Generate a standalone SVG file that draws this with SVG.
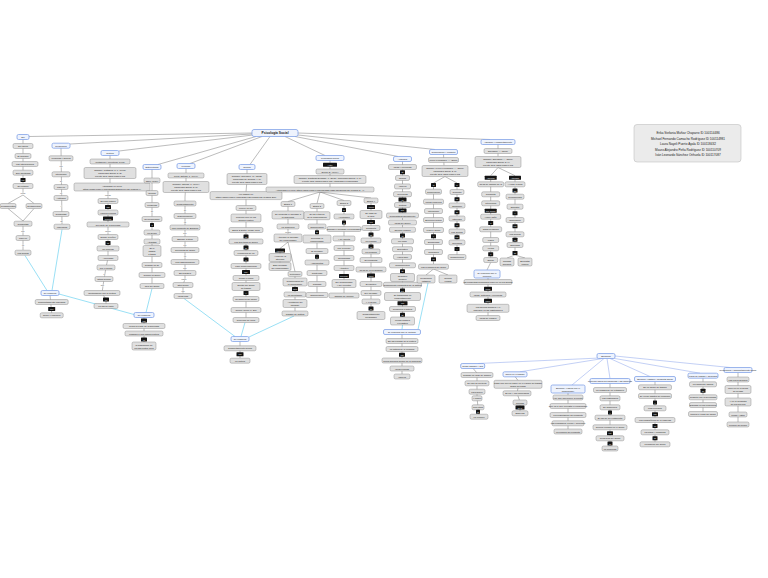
<svg xmlns="http://www.w3.org/2000/svg" width="768" height="578" viewBox="0 0 768 578">
<style>
text{font-family:"Liberation Sans",Arial,sans-serif;font-size:2.3px;text-anchor:middle;dominant-baseline:central;fill:#1a1a1a}
.n rect{fill:#e0e0e0;stroke:#7a7a7a;stroke-width:0.4}
.b rect{fill:#eef3fd;stroke:#7c9de6;stroke-width:0.75}
.k rect{fill:#141414}
.k text{fill:#fff;font-size:2px}
.l{font-size:2px;fill:#444;stroke:#fff;stroke-width:0.6;paint-order:stroke}
.c line,.c polyline{stroke:#555;stroke-width:0.4;fill:none}
.c .x{stroke:#8fdcf4;stroke-width:0.9}
.c .e{stroke:#9ab0ee;stroke-width:0.6}
</style>
<rect width="768" height="578" fill="#fff"/>
<g id="connectors" class="c">
<line x1="252" y1="133" x2="29" y2="136.5"/>
<line x1="252" y1="134" x2="70" y2="144"/>
<line x1="253" y1="135" x2="119" y2="151"/>
<line x1="256" y1="136.5" x2="158" y2="164.5"/>
<line x1="262" y1="136.5" x2="190" y2="163.5"/>
<line x1="270" y1="136.5" x2="250" y2="164.5"/>
<line x1="285" y1="136.5" x2="325" y2="155.5"/>
<line x1="295" y1="136.5" x2="398" y2="156.5"/>
<line x1="298" y1="135" x2="435" y2="149.5"/>
<line x1="298" y1="133" x2="490" y2="139.5"/>
<line x1="23" y1="139.5" x2="23" y2="194"/>
<polyline points="8,203.5 23,195 34,203.5"/>
<polyline points="8,208.5 23,221 34,208.5"/>
<line x1="23" y1="226" x2="23" y2="250"/>
<line x1="61" y1="148" x2="62" y2="224"/>
<line x1="50" y1="295" x2="51.7" y2="313"/>
<polyline points="110,155 110,183 108,191 108,258 106,267.5 104,279 102,293 106,299.5 106,304"/>
<line x1="152" y1="169" x2="152" y2="284"/>
<line x1="144" y1="317" x2="144" y2="342"/>
<polyline points="186,168 186,182 185,197 185,279 183,285 183,294"/>
<polyline points="247,169 247,180 246,192 246,318"/>
<line x1="240" y1="341" x2="240" y2="358"/>
<line x1="330" y1="160" x2="330" y2="187"/>
<line x1="320" y1="192" x2="288" y2="201.5"/>
<line x1="320" y1="192" x2="317" y2="203.5"/>
<line x1="320" y1="192" x2="344" y2="200.5"/>
<line x1="320" y1="192" x2="371" y2="198"/>
<line x1="288" y1="206" x2="288" y2="242"/>
<polyline points="288,242 280,248.5 280,264"/>
<polyline points="288,242 295,271.5 295,311"/>
<line x1="317" y1="208" x2="317" y2="293"/>
<line x1="344" y1="205" x2="344" y2="293"/>
<line x1="371" y1="202.5" x2="371" y2="312"/>
<line x1="402.5" y1="161" x2="402.5" y2="318"/>
<line x1="402" y1="334" x2="402" y2="374"/>
<line x1="443.5" y1="154" x2="444" y2="165.5"/>
<line x1="445" y1="176.5" x2="433.5" y2="183"/>
<line x1="445" y1="176.5" x2="457" y2="183"/>
<line x1="433.5" y1="187" x2="433.5" y2="264"/>
<line x1="433.5" y1="269" x2="426" y2="275"/>
<line x1="433.5" y1="269" x2="448" y2="275"/>
<line x1="457" y1="187" x2="457" y2="255"/>
<line x1="498" y1="144" x2="498" y2="156.5"/>
<line x1="498" y1="167.5" x2="490.7" y2="175.7"/>
<line x1="498" y1="167.5" x2="515" y2="175.7"/>
<line x1="490.7" y1="179.7" x2="490.7" y2="262"/>
<line x1="490.7" y1="262.5" x2="487" y2="270"/>
<line x1="515" y1="179.7" x2="515" y2="251.3"/>
<line x1="515" y1="255" x2="507" y2="258"/>
<line x1="515" y1="255" x2="525" y2="258"/>
<line x1="488" y1="278" x2="488" y2="316"/>
<polyline points="472.7,368 477,373 477,398 478,407 479,415"/>
<polyline points="515,376.5 518,380.5 518,388 517,393 520,402 520,411"/>
<line x1="568" y1="393" x2="568" y2="429"/>
<line x1="610" y1="383.5" x2="610" y2="446"/>
<line x1="655" y1="381.5" x2="655" y2="442"/>
<line x1="703" y1="378" x2="703" y2="412"/>
<line x1="738" y1="372.5" x2="738" y2="422"/>
<line class="x" x1="25" y1="255.5" x2="47" y2="290.5"/>
<line class="x" x1="62" y1="229.5" x2="52" y2="290.5"/>
<line class="x" x1="59" y1="294" x2="134" y2="314.5"/>
<line class="x" x1="152" y1="288.5" x2="146" y2="312.5"/>
<line class="x" x1="184" y1="298.5" x2="235" y2="336.5"/>
<line class="x" x1="245" y1="322.5" x2="241" y2="336.5"/>
<line class="x" x1="249" y1="337" x2="294" y2="316"/>
<line class="x" x1="402.5" y1="325" x2="402" y2="329.5"/>
<line class="x" x1="428" y1="283" x2="418" y2="329.5"/>
<line class="e" x1="600" y1="358" x2="478" y2="363.5"/>
<line class="e" x1="603" y1="358.5" x2="520" y2="371.8"/>
<line class="e" x1="604" y1="358.5" x2="572" y2="385"/>
<line class="e" x1="607" y1="358.5" x2="610" y2="378.5"/>
<line class="e" x1="610" y1="358.5" x2="650" y2="376.5"/>
<line class="e" x1="612" y1="358" x2="700" y2="373.2"/>
<line class="e" x1="615" y1="356" x2="730" y2="367.5"/>
</g>
<g id="link-labels">
<text class="l" x="23" y="193">como</text>
<text class="l" x="23" y="231">que</text>
<text class="l" x="23" y="245">en</text>
<text class="l" x="61" y="165.7">con</text>
<text class="l" x="61" y="181">se</text>
<text class="l" x="61" y="193">en</text>
<text class="l" x="61" y="206">y</text>
<text class="l" x="61.5" y="220.5">de</text>
<text class="l" x="108" y="195">nacido</text>
<text class="l" x="108" y="231">ocurre</text>
<text class="l" x="104" y="273.5">a</text>
<text class="l" x="102.5" y="285">que</text>
<text class="l" x="152" y="211">de</text>
<text class="l" x="185" y="209.5">de</text>
<text class="l" x="185" y="221.5">es</text>
<text class="l" x="185" y="233">que</text>
<text class="l" x="185" y="244.5">por</text>
<text class="l" x="185" y="256">en</text>
<text class="l" x="185" y="267.5">que</text>
<text class="l" x="184" y="279">hacia</text>
<text class="l" x="183" y="290.5">con</text>
<text class="l" x="288" y="231.5">presta</text>
</g>
<g id="root" class="b"><rect x="252" y="129.5" width="46" height="7" rx="2"/><text x="275" y="133" style="font-size:3.3px;font-weight:bold">Psicología Social</text></g>
<g id="col-ser">
<g id="a0" class="b"><rect x="17" y="134.5" width="12" height="5" rx="1.5"/><text x="23" y="137">Ser</text></g>
<g id="a1" class="n"><rect x="13" y="143.5" width="20" height="5" rx="1.5"/><text x="23" y="146">Ser social</text></g>
<g id="a2" class="n"><rect x="15" y="153.5" width="16" height="5" rx="1.5"/><text x="23" y="156">El humano</text></g>
<g id="a3" class="n"><rect x="12" y="161.5" width="26" height="5" rx="1.5"/><text x="25" y="164">Las interacciones</text></g>
<g id="a4" class="n"><rect x="13" y="170.2" width="20" height="5" rx="1.5"/><text x="23" y="172.7">Son afectadas</text></g>
<g id="a5" class="k"><rect x="20.5" y="178" width="5" height="4" rx="0.5"/><text x="23" y="180">por</text></g>
<g id="a6" class="n"><rect x="13" y="183.5" width="20" height="5" rx="1.5"/><text x="23" y="186">Su entorno</text></g>
<g id="a7" class="n"><rect x="0" y="203.5" width="16" height="5" rx="1.5"/><text x="8" y="206">Pensamientos</text></g>
<g id="a8" class="n"><rect x="26" y="203.5" width="16" height="5" rx="1.5"/><text x="34" y="206">Sentimientos</text></g>
<g id="a9" class="n"><rect x="14" y="221.2" width="18" height="5" rx="1.5"/><text x="23" y="223.7">Conductas</text></g>
<g id="a10" class="n"><rect x="16" y="235.5" width="14" height="5" rx="1.5"/><text x="23" y="238">Influyen</text></g>
<g id="a11" class="n"><rect x="15" y="250.2" width="16" height="5" rx="1.5"/><text x="23" y="252.7">Los demás</text></g>
</g>
<g id="col-relaciones">
<g id="b0" class="b"><rect x="52" y="143.2" width="18" height="5" rx="1.5"/><text x="61" y="145.7">Relaciones</text></g>
<g id="b1" class="n"><rect x="49" y="155.8" width="24" height="5" rx="1.5"/><text x="61" y="158.3">Personas y grupos</text></g>
<g id="b2" class="n"><rect x="52" y="171.8" width="18" height="5" rx="1.5"/><text x="61" y="174.3">Interacción</text></g>
<g id="b3" class="n"><rect x="54" y="184.5" width="14" height="5" rx="1.5"/><text x="61" y="187">Influyen</text></g>
<g id="b4" class="n"><rect x="54" y="195.5" width="14" height="5" rx="1.5"/><text x="61" y="198">Actitudes</text></g>
<g id="b5" class="n"><rect x="53" y="211.5" width="16" height="5" rx="1.5"/><text x="61" y="214">Conductas</text></g>
<g id="b6" class="n"><rect x="54" y="224.2" width="16" height="5" rx="1.5"/><text x="62" y="226.7">Individuos</text></g>
</g>
<g id="sr1">
<g id="s1" class="b"><rect x="41" y="290.5" width="18" height="5" rx="1.5"/><text x="50" y="293">se relaciona</text></g>
<g id="s1a" class="n"><rect x="35.2" y="299.5" width="33" height="5" rx="1.5"/><text x="51.7" y="302">Comportamiento individual</text></g>
<g id="s1k" class="k"><rect x="48.2" y="307" width="7" height="4" rx="0.5"/><text x="51.7" y="309">con</text></g>
<g id="s1b" class="n"><rect x="40.2" y="312.8" width="23" height="5" rx="1.5"/><text x="51.7" y="315.3">grupo e individuo</text></g>
</g>
<g id="col-cultura">
<g id="c0" class="b"><rect x="101" y="150.5" width="18" height="5" rx="1.5"/><text x="110" y="153">Cultura</text></g>
<g id="c1" class="n"><rect x="90" y="159" width="40" height="5" rx="1.5"/><text x="110" y="161.5">(Pettigrew y Meertens, 1995)</text></g>
<g id="c2" class="n"><rect x="84" y="167.5" width="52" height="11" rx="1.5"/><text x="110" y="170">Nombre: Pettigrew, T. F. (1995)</text><text x="110" y="173">Psicología Social: 5 (2)</text><text x="110" y="176">Fuente web: www.redalyc.org</text></g>
<g id="c3" class="n"><rect x="74" y="183" width="76" height="8" rx="1.5"/><text x="112" y="185.5">Actualidad en línea:</text><text x="112" y="188.5">https://www.redalyc.org/pdf/805/80511907.pdf (Página 4)</text></g>
<g id="c4" class="n"><rect x="98" y="198.5" width="20" height="5" rx="1.5"/><text x="108" y="201">En una cultura</text></g>
<g id="c5" class="k"><rect x="105" y="205" width="6" height="4" rx="0.5"/><text x="108" y="207">con</text></g>
<g id="c6" class="n"><rect x="98" y="210" width="20" height="5" rx="1.5"/><text x="108" y="212.5">Valores propios</text></g>
<g id="c7" class="k"><rect x="103" y="216.5" width="10" height="4" rx="0.5"/><text x="108" y="218.5">permite</text></g>
<g id="c8" class="n"><rect x="87" y="222" width="42" height="5" rx="1.5"/><text x="108" y="224.5">ser parte de la sociedad</text></g>
<g id="c9" class="n"><rect x="98" y="234.5" width="20" height="5" rx="1.5"/><text x="108" y="237">Desde la niñez</text></g>
<g id="c10" class="k"><rect x="105.5" y="241" width="5" height="4" rx="0.5"/><text x="108" y="243">es</text></g>
<g id="c11" class="n"><rect x="97" y="246" width="22" height="5" rx="1.5"/><text x="108" y="248.5">Un proceso</text></g>
<g id="c12" class="n"><rect x="98" y="255.5" width="20" height="5" rx="1.5"/><text x="108" y="258">Aprendido</text></g>
<g id="c13" class="n"><rect x="97" y="265" width="18" height="5" rx="1.5"/><text x="106" y="267.5">Por el grupo</text></g>
<g id="c14" class="n"><rect x="95" y="276.5" width="18" height="5" rx="1.5"/><text x="104" y="279">Otros grupos</text></g>
<g id="c15" class="n"><rect x="84" y="290.5" width="36" height="5" rx="1.5"/><text x="102" y="293">Identificación con la cultura</text></g>
<g id="c16" class="k"><rect x="103" y="297.5" width="6" height="4" rx="0.5"/><text x="106" y="299.5">en</text></g>
<g id="c17" class="n"><rect x="94" y="303.5" width="24" height="5" rx="1.5"/><text x="106" y="306">La mayor parte</text></g>
</g>
<g id="col-estereotipos">
<g id="d0" class="b"><rect x="143" y="164.5" width="18" height="5" rx="1.5"/><text x="152" y="167">Estereotipos</text></g>
<g id="d1" class="n"><rect x="144" y="178" width="16" height="5" rx="1.5"/><text x="152" y="180.5">Tajfel (1984)</text></g>
<g id="d2" class="n"><rect x="146" y="190.5" width="12" height="5" rx="1.5"/><text x="152" y="193">Grupos</text></g>
<g id="d3" class="n"><rect x="145" y="202.5" width="14" height="5" rx="1.5"/><text x="152" y="205">Personas</text></g>
<g id="d4" class="n"><rect x="142" y="216.5" width="20" height="5" rx="1.5"/><text x="152" y="219">Generalización</text></g>
<g id="d5" class="k"><rect x="150" y="223" width="4" height="4" rx="0.5"/><text x="152" y="225">a</text></g>
<g id="d6" class="n"><rect x="144" y="230" width="16" height="5" rx="1.5"/><text x="152" y="232.5">Un grupo</text></g>
<g id="d7" class="n"><rect x="144" y="239" width="16" height="5" rx="1.5"/><text x="152" y="241.5">Atributos</text></g>
<g id="d8" class="n"><rect x="143" y="245.5" width="18" height="11" rx="1.5"/><text x="152" y="248">Se le</text><text x="152" y="251">asigna</text><text x="152" y="254">a todos</text></g>
<g id="d9" class="n"><rect x="142" y="262.5" width="20" height="5" rx="1.5"/><text x="152" y="265">Cuando no se</text></g>
<g id="d10" class="n"><rect x="139" y="272.5" width="26" height="5" rx="1.5"/><text x="152" y="275">Conoce al grupo</text></g>
<g id="d11" class="n"><rect x="140" y="283.5" width="24" height="5" rx="1.5"/><text x="152" y="286">Idea del grupo</text></g>
</g>
<g id="sr2">
<g id="s2" class="b"><rect x="134" y="312.5" width="20" height="5" rx="1.5"/><text x="144" y="315">se relaciona</text></g>
<g id="s2k1" class="k"><rect x="141" y="318.5" width="6" height="4" rx="0.5"/><text x="144" y="320.5">con</text></g>
<g id="s2a" class="n"><rect x="123" y="323.5" width="42" height="5" rx="1.5"/><text x="144" y="326">la mayor parte de la sociedad</text></g>
<g id="s2b" class="n"><rect x="125" y="331" width="38" height="5" rx="1.5"/><text x="144" y="333.5">llegando a una misma cultura</text></g>
<g id="s2k2" class="k"><rect x="141" y="337.5" width="6" height="4" rx="0.5"/><text x="144" y="339.5">en</text></g>
<g id="s2c" class="n"><rect x="132" y="342" width="24" height="8" rx="1.5"/><text x="144" y="344.5">la adquisición de</text><text x="144" y="347.5">los diferentes roles</text></g>
</g>
<g id="col-prejuicio">
<g id="e0" class="b"><rect x="177" y="163.5" width="18" height="5" rx="1.5"/><text x="186" y="166">Prejuicio</text></g>
<g id="e1" class="n"><rect x="168" y="173" width="36" height="5" rx="1.5"/><text x="186" y="175.5">Perfil: Ortega, J. (1999)</text></g>
<g id="e2" class="n"><rect x="163" y="181.5" width="46" height="11" rx="1.5"/><text x="186" y="184">Nombre: Ortega, J. (1999)</text><text x="186" y="187">Psicología Social: 3 (1)</text><text x="186" y="190">Fuente web: www.redalyc.org</text></g>
<g id="e3" class="n"><rect x="174" y="201" width="22" height="5" rx="1.5"/><text x="185" y="203.5">Comportamiento</text></g>
<g id="e4" class="n"><rect x="174" y="213.5" width="22" height="5" rx="1.5"/><text x="185" y="216">Discriminación</text></g>
<g id="e5" class="n"><rect x="170" y="225" width="30" height="5" rx="1.5"/><text x="185" y="227.5">Una conducta de Bandura</text></g>
<g id="e6" class="n"><rect x="172" y="236.5" width="26" height="5" rx="1.5"/><text x="185" y="239">Escribe a otros</text></g>
<g id="e7" class="n"><rect x="171" y="247.5" width="28" height="5" rx="1.5"/><text x="185" y="250">Creencias de grupo</text></g>
<g id="e8" class="n"><rect x="171" y="259.5" width="28" height="5" rx="1.5"/><text x="185" y="262">Una discriminación</text></g>
<g id="e9" class="n"><rect x="174" y="270.5" width="22" height="5" rx="1.5"/><text x="185" y="273">Es negativa</text></g>
<g id="e10" class="n"><rect x="173" y="282.5" width="20" height="5" rx="1.5"/><text x="183" y="285">Otro grupo</text></g>
<g id="e11" class="n"><rect x="174" y="293.5" width="18" height="5" rx="1.5"/><text x="183" y="296">Ideas fijas</text></g>
</g>
<g id="col-grupos">
<g id="f0" class="b"><rect x="239" y="164.5" width="16" height="5" rx="1.5"/><text x="247" y="167">Grupos</text></g>
<g id="f1" class="n"><rect x="227" y="173.5" width="40" height="11" rx="1.5"/><text x="247" y="176">Nombre: González, M. (2002)</text><text x="247" y="179">Psicología de Grupos: 4 (1)</text><text x="247" y="182">Fuente web: www.redalyc.org</text></g>
<g id="f2" class="n"><rect x="210" y="191.6" width="72" height="8" rx="1.5"/><text x="246" y="194.1">Ver página en:</text><text x="246" y="197.1">https://www.redalyc.org/pdf/264/26400512.pdf (Página 207)</text></g>
<g id="f3" class="n"><rect x="236" y="205.5" width="20" height="5" rx="1.5"/><text x="246" y="208">Lerner (1970)</text></g>
<g id="f4" class="n"><rect x="231" y="214" width="30" height="8" rx="1.5"/><text x="246" y="216.5">Propone que en los</text><text x="246" y="219.5">grupos existen</text></g>
<g id="f5" class="n"><rect x="229" y="227.5" width="34" height="5" rx="1.5"/><text x="246" y="230">Bales &amp; Slater (1955) roles</text></g>
<g id="f6" class="k"><rect x="243.5" y="234.5" width="5" height="4" rx="0.5"/><text x="246" y="236.5">en</text></g>
<g id="f7" class="n"><rect x="229" y="239" width="34" height="5" rx="1.5"/><text x="246" y="241.5">Los tres tipos de grupo</text></g>
<g id="f8" class="k"><rect x="243.5" y="245.5" width="5" height="4" rx="0.5"/><text x="246" y="247.5">de</text></g>
<g id="f9" class="n"><rect x="234" y="250.5" width="24" height="5" rx="1.5"/><text x="246" y="253">Funciones de rol</text></g>
<g id="f10" class="k"><rect x="243.5" y="257.5" width="5" height="4" rx="0.5"/><text x="246" y="259.5">el</text></g>
<g id="f11" class="n"><rect x="231" y="263.5" width="30" height="5" rx="1.5"/><text x="246" y="266">Líder socioemocional</text></g>
<g id="f12" class="k"><rect x="242" y="270" width="8" height="4" rx="0.5"/><text x="246" y="272">que</text></g>
<g id="f13" class="n"><rect x="233" y="275.5" width="26" height="5" rx="1.5"/><text x="246" y="278">Cuida el clima</text></g>
<g id="f14" class="n"><rect x="232" y="282.5" width="28" height="8" rx="1.5"/><text x="246" y="285">Dentro del grupo</text><text x="246" y="288">de trabajo</text></g>
<g id="f15" class="k"><rect x="243.5" y="291" width="5" height="4" rx="0.5"/><text x="246" y="293">y</text></g>
<g id="f16" class="n"><rect x="233" y="296.5" width="26" height="5" rx="1.5"/><text x="246" y="299">Relaciones del grupo</text></g>
<g id="f17" class="n"><rect x="231" y="307.5" width="30" height="5" rx="1.5"/><text x="246" y="310">Tienen (1977) p. 207</text></g>
<g id="f18" class="n"><rect x="233" y="317.5" width="26" height="5" rx="1.5"/><text x="246" y="320">Reflexión de roles</text></g>
</g>
<g id="sr3">
<g id="s3" class="b"><rect x="231" y="336.5" width="18" height="5" rx="1.5"/><text x="240" y="339">se relaciona</text></g>
<g id="s3a" class="n"><rect x="224" y="345.8" width="32" height="5" rx="1.5"/><text x="240" y="348.3">Comportamiento grupal</text></g>
<g id="s3k" class="k"><rect x="236.5" y="352.3" width="7" height="4" rx="0.5"/><text x="240" y="354.3">con</text></g>
<g id="s3b" class="n"><rect x="230" y="358.2" width="20" height="5" rx="1.5"/><text x="240" y="360.7">La cultura</text></g>
</g>
<g id="col-persuasion">
<g id="g0" class="b"><rect x="316" y="155.5" width="28" height="5" rx="1.5"/><text x="330" y="158">Persuasión social</text></g>
<g id="g1" class="k"><rect x="323" y="162.8" width="14" height="4" rx="0.5"/><text x="330" y="164.8">Autor</text></g>
<g id="g2" class="n"><rect x="316" y="169" width="28" height="5" rx="1.5"/><text x="330" y="171.5">Sears, D. (1999)</text></g>
<g id="g3" class="n"><rect x="294" y="175.5" width="72" height="8" rx="1.5"/><text x="330" y="178">Nombre: Santiago Delgado, F. (2011). Psicología Social. 1 (1)</text><text x="330" y="181">Fuente web: www.redalyc.org Actualidad en Psicología</text></g>
<g id="g4" class="n"><rect x="266" y="187" width="108" height="5" rx="1.5"/><text x="320" y="189.5">Actualidad en línea: https://www.redalyc.org/pdf/1339/133915936002.pdf (Página 3 - 4)</text></g>
<g id="h1_0" class="n"><rect x="281" y="201.5" width="14" height="5" rx="1.5"/><text x="288" y="204">Etapa 1</text></g>
<g id="h1_1" class="n"><rect x="272" y="211" width="32" height="8" rx="1.5"/><text x="288" y="213.5">Se presenta el mensaje a</text><text x="288" y="216.5">la audiencia</text></g>
<g id="h1_2" class="n"><rect x="277" y="224" width="22" height="5" rx="1.5"/><text x="288" y="226.5">La audiencia</text></g>
<g id="h1_3" class="n"><rect x="274" y="234" width="28" height="8" rx="1.5"/><text x="288" y="236.5">Atención al mensaje</text><text x="288" y="239.5">del comunicador</text></g>
<g id="h1_4" class="k"><rect x="275" y="248.5" width="10" height="4" rx="0.5"/><text x="280" y="250.5">Atención</text></g>
<g id="h1_5" class="n"><rect x="269" y="253.5" width="22" height="8" rx="1.5"/><text x="280" y="256">Ayuda de la</text><text x="280" y="259">atención</text></g>
<g id="h1_6" class="n"><rect x="269" y="262.5" width="22" height="8" rx="1.5"/><text x="280" y="265">Bajo mensaje</text><text x="280" y="268">del comunicador</text></g>
<g id="h1_7" class="n"><rect x="288" y="271.5" width="14" height="5" rx="1.5"/><text x="295" y="274">Retención</text></g>
<g id="h1_8" class="n"><rect x="283" y="278" width="24" height="8" rx="1.5"/><text x="295" y="280.5">Comprensión de</text><text x="295" y="283.5">la información</text></g>
<g id="h1_9" class="k"><rect x="292" y="287" width="6" height="4" rx="0.5"/><text x="295" y="289">para</text></g>
<g id="h1_10" class="n"><rect x="284" y="292" width="22" height="5" rx="1.5"/><text x="295" y="294.5">La aceptación</text></g>
<g id="h1_11" class="n"><rect x="283" y="299.5" width="24" height="8" rx="1.5"/><text x="295" y="302">Aceptación del</text><text x="295" y="305">mensaje</text></g>
<g id="h1_12" class="n"><rect x="282" y="311" width="26" height="5" rx="1.5"/><text x="295" y="313.5">Cambio de actitud</text></g>
<g id="h2_0" class="n"><rect x="310" y="203.5" width="14" height="5" rx="1.5"/><text x="317" y="206">Etapa 2</text></g>
<g id="h2_1" class="n"><rect x="304" y="211.7" width="26" height="8" rx="1.5"/><text x="317" y="214.2">Se da a través</text><text x="317" y="217.2">de la comunicación</text></g>
<g id="h2_2" class="n"><rect x="308" y="224" width="18" height="5" rx="1.5"/><text x="317" y="226.5">Comprensión</text></g>
<g id="h2_3" class="k"><rect x="315" y="230.2" width="4" height="4" rx="0.5"/><text x="317" y="232.2">de</text></g>
<g id="h2_4" class="n"><rect x="303" y="235" width="28" height="8" rx="1.5"/><text x="317" y="237.5">Recordar lo</text><text x="317" y="240.5">comprendido</text></g>
<g id="h2_5" class="n"><rect x="306" y="248.5" width="22" height="5" rx="1.5"/><text x="317" y="251">El mensaje</text></g>
<g id="h2_6" class="k"><rect x="315" y="254.8" width="4" height="4" rx="0.5"/><text x="317" y="256.8">y</text></g>
<g id="h2_7" class="n"><rect x="305" y="260" width="24" height="5" rx="1.5"/><text x="317" y="262.5">Argumentos</text></g>
<g id="h2_8" class="n"><rect x="307" y="270.5" width="20" height="5" rx="1.5"/><text x="317" y="273">Contenido</text></g>
<g id="h2_9" class="n"><rect x="308" y="281.5" width="18" height="5" rx="1.5"/><text x="317" y="284">Claridad</text></g>
<g id="h2_10" class="n"><rect x="306" y="292.5" width="22" height="5" rx="1.5"/><text x="317" y="295">Comprensión</text></g>
<g id="h3_0" class="n"><rect x="337" y="200.5" width="14" height="5" rx="1.5"/><text x="344" y="203">Etapa 3</text></g>
<g id="h3_1" class="k"><rect x="342" y="208" width="4" height="4" rx="0.5"/><text x="344" y="210">se</text></g>
<g id="h3_2" class="n"><rect x="334" y="214" width="20" height="5" rx="1.5"/><text x="344" y="216.5">Aceptación</text></g>
<g id="h3_3" class="k"><rect x="342" y="220.5" width="4" height="4" rx="0.5"/><text x="344" y="222.5">es</text></g>
<g id="h3_4" class="n"><rect x="327" y="226.5" width="34" height="5" rx="1.5"/><text x="344" y="229">Cuando el mensaje es persuasivo</text></g>
<g id="h3_5" class="n"><rect x="333" y="236" width="22" height="5" rx="1.5"/><text x="344" y="238.5">Y se acepta</text></g>
<g id="h3_6" class="n"><rect x="334" y="245.5" width="20" height="5" rx="1.5"/><text x="344" y="248">Por la fuente</text></g>
<g id="h3_7" class="n"><rect x="334" y="255.5" width="20" height="5" rx="1.5"/><text x="344" y="258">Credibilidad</text></g>
<g id="h3_8" class="n"><rect x="334" y="265.5" width="20" height="5" rx="1.5"/><text x="344" y="268">Atractivo</text></g>
<g id="h3_9" class="k"><rect x="339" y="274" width="10" height="4" rx="0.5"/><text x="344" y="276">depende</text></g>
<g id="h3_10" class="n"><rect x="332" y="279.5" width="24" height="8" rx="1.5"/><text x="344" y="282">Del comunicador</text><text x="344" y="285">y del receptor</text></g>
<g id="h3_11" class="n"><rect x="329" y="293" width="30" height="5" rx="1.5"/><text x="344" y="295.5">Cambio de opinión</text></g>
<g id="h4_0" class="n"><rect x="364" y="198" width="14" height="5" rx="1.5"/><text x="371" y="200.5">Etapa 4</text></g>
<g id="h4_1" class="k"><rect x="367" y="205" width="8" height="4" rx="0.5"/><text x="371" y="207">Acción</text></g>
<g id="h4_2" class="n"><rect x="360" y="210.5" width="22" height="8" rx="1.5"/><text x="371" y="213">Se pasa de</text><text x="371" y="216">la idea</text></g>
<g id="h4_3" class="k"><rect x="367" y="220" width="8" height="4" rx="0.5"/><text x="371" y="222">a la</text></g>
<g id="h4_4" class="n"><rect x="362" y="225.5" width="18" height="5" rx="1.5"/><text x="371" y="228">Conducta</text></g>
<g id="h4_5" class="k"><rect x="368.5" y="232.5" width="5" height="4" rx="0.5"/><text x="371" y="234.5">es</text></g>
<g id="h4_6" class="n"><rect x="361" y="238" width="20" height="5" rx="1.5"/><text x="371" y="240.5">Un cambio</text></g>
<g id="h4_7" class="k"><rect x="368.5" y="244.5" width="5" height="4" rx="0.5"/><text x="371" y="246.5">en</text></g>
<g id="h4_8" class="n"><rect x="362" y="249" width="18" height="5" rx="1.5"/><text x="371" y="251.5">La persona</text></g>
<g id="h4_9" class="n"><rect x="360" y="257.5" width="22" height="5" rx="1.5"/><text x="371" y="260">Su conducta</text></g>
<g id="h4_10" class="n"><rect x="356" y="267" width="30" height="5" rx="1.5"/><text x="371" y="269.5">Ideas de la persuasión</text></g>
<g id="h4_11" class="k"><rect x="367" y="273.5" width="8" height="4" rx="0.5"/><text x="371" y="275.5">hacia</text></g>
<g id="h4_12" class="n"><rect x="360" y="281.5" width="22" height="5" rx="1.5"/><text x="371" y="284">El objetivo</text></g>
<g id="h4_13" class="n"><rect x="361" y="290.5" width="20" height="5" rx="1.5"/><text x="371" y="293">Del mensaje</text></g>
<g id="h4_14" class="n"><rect x="362" y="299" width="18" height="5" rx="1.5"/><text x="371" y="301.5">Y el grupo</text></g>
<g id="h4_15" class="k"><rect x="368.5" y="306.5" width="5" height="4" rx="0.5"/><text x="371" y="308.5">de</text></g>
<g id="h4_16" class="n"><rect x="357" y="311.5" width="28" height="8" rx="1.5"/><text x="371" y="314">Comportamiento</text><text x="371" y="317">persuadido</text></g>
</g>
<g id="col-actitudes">
<g id="i0" class="b"><rect x="393.5" y="156.5" width="18" height="5" rx="1.5"/><text x="402.5" y="159">Actitudes</text></g>
<g id="i1" class="n"><rect x="388.5" y="164.5" width="28" height="5" rx="1.5"/><text x="402.5" y="167">Ideas y creencias</text></g>
<g id="i2" class="k"><rect x="400" y="170.2" width="5" height="4" rx="0.5"/><text x="402.5" y="172.2">de</text></g>
<g id="i3" class="n"><rect x="395.5" y="175.5" width="14" height="5" rx="1.5"/><text x="402.5" y="178">grupos</text></g>
<g id="i4" class="n"><rect x="394.5" y="183.9" width="16" height="5" rx="1.5"/><text x="402.5" y="186.4">Valores</text></g>
<g id="i5" class="n"><rect x="393.5" y="191.7" width="18" height="5" rx="1.5"/><text x="402.5" y="194.2">Creencias</text></g>
<g id="i6" class="k"><rect x="398.5" y="197.5" width="8" height="4" rx="0.5"/><text x="402.5" y="199.5">en</text></g>
<g id="i7" class="n"><rect x="394.5" y="202.5" width="16" height="5" rx="1.5"/><text x="402.5" y="205">Cultura</text></g>
<g id="i8" class="k"><rect x="398.5" y="208.4" width="8" height="4" rx="0.5"/><text x="402.5" y="210.4">que</text></g>
<g id="i9" class="n"><rect x="386.5" y="213" width="32" height="5" rx="1.5"/><text x="402.5" y="215.5">Compartidas socialmente</text></g>
<g id="i10" class="n"><rect x="388.5" y="220" width="28" height="5" rx="1.5"/><text x="402.5" y="222.5">Ideas del grupo</text></g>
<g id="i11" class="n"><rect x="389.5" y="227.2" width="26" height="5" rx="1.5"/><text x="402.5" y="229.7">Opinión pública</text></g>
<g id="i12" class="k"><rect x="400" y="233.5" width="5" height="4" rx="0.5"/><text x="402.5" y="235.5">es</text></g>
<g id="i13" class="n"><rect x="391.5" y="238.8" width="22" height="5" rx="1.5"/><text x="402.5" y="241.3">Un juicio</text></g>
<g id="i14" class="n"><rect x="392.5" y="246.7" width="20" height="5" rx="1.5"/><text x="402.5" y="249.2">Evaluativo</text></g>
<g id="i15" class="n"><rect x="393.5" y="254.4" width="18" height="5" rx="1.5"/><text x="402.5" y="256.9">Hacia algo</text></g>
<g id="i16" class="n"><rect x="389.5" y="262.8" width="26" height="5" rx="1.5"/><text x="402.5" y="265.3">Componentes</text></g>
<g id="i17" class="k"><rect x="400" y="269.3" width="5" height="4" rx="0.5"/><text x="402.5" y="271.3">de</text></g>
<g id="i18" class="n"><rect x="390.5" y="273.5" width="24" height="8" rx="1.5"/><text x="402.5" y="276">Cognitivo</text><text x="402.5" y="279">afectivo</text></g>
<g id="i19" class="n"><rect x="383.5" y="282.3" width="38" height="5" rx="1.5"/><text x="402.5" y="284.8">Componente conductual de la actitud</text></g>
<g id="i20" class="k"><rect x="400" y="288.5" width="5" height="4" rx="0.5"/><text x="402.5" y="290.5">que</text></g>
<g id="i21" class="n"><rect x="384.5" y="292.5" width="36" height="8" rx="1.5"/><text x="402.5" y="295">Se transforma en</text><text x="402.5" y="298">comportamiento</text></g>
<g id="i22" class="k"><rect x="397.5" y="301.3" width="10" height="4" rx="0.5"/><text x="402.5" y="303.3">con</text></g>
<g id="i23" class="n"><rect x="389.5" y="306.5" width="26" height="5" rx="1.5"/><text x="402.5" y="309">Tendencia a actuar</text></g>
<g id="i24" class="k"><rect x="400" y="312.8" width="5" height="4" rx="0.5"/><text x="402.5" y="314.8">de</text></g>
<g id="i25" class="n"><rect x="390.5" y="317" width="24" height="8" rx="1.5"/><text x="402.5" y="319.5">Forma positiva</text><text x="402.5" y="322.5">o negativa</text></g>
</g>
<g id="sr4">
<g id="s4" class="b"><rect x="383.5" y="329.5" width="37" height="5" rx="1.5"/><text x="402" y="332">se relaciona con la (cultura)</text></g>
<g id="s4a" class="n"><rect x="386" y="338.5" width="32" height="5" rx="1.5"/><text x="402" y="341">En las normas de la cultura</text></g>
<g id="s4b" class="n"><rect x="386" y="346.5" width="32" height="5" rx="1.5"/><text x="402" y="349">La actitud de la persona</text></g>
<g id="s4k" class="k"><rect x="399" y="352.8" width="6" height="4" rx="0.5"/><text x="402" y="354.8">con</text></g>
<g id="s4c" class="n"><rect x="382" y="358" width="40" height="5" rx="1.5"/><text x="402" y="360.5">Roles sociales dentro de la sociedad</text></g>
<g id="s4d" class="n"><rect x="390" y="366" width="24" height="5" rx="1.5"/><text x="402" y="368.5">Ideas propias</text></g>
<g id="s4e" class="n"><rect x="394" y="374" width="16" height="5" rx="1.5"/><text x="402" y="376.5">Valores</text></g>
</g>
<g id="col-cooperacion">
<g id="j0" class="b"><rect x="429.5" y="149.5" width="28" height="5" rx="1.5"/><text x="443.5" y="152">Cooperación y conflicto</text></g>
<g id="j1" class="n"><rect x="428.5" y="157.5" width="30" height="5" rx="1.5"/><text x="443.5" y="160">Pérez Fernández, A. (2007)</text></g>
<g id="j2" class="n"><rect x="422" y="165.5" width="46" height="11" rx="1.5"/><text x="445" y="168">Nombre: Pérez Fernández, A. (2007)</text><text x="445" y="171">Psicología social: 2 (1)</text><text x="445" y="174">Fuente web: www.redalyc.org</text></g>
<g id="j3" class="k"><rect x="431" y="183" width="5" height="4" rx="0.5"/><text x="433.5" y="185">la</text></g>
<g id="j4" class="n"><rect x="425.5" y="189.2" width="16" height="5" rx="1.5"/><text x="433.5" y="191.7">Cooperación</text></g>
<g id="j5" class="n"><rect x="423.5" y="199.2" width="20" height="5" rx="1.5"/><text x="433.5" y="201.7">Metas comunes</text></g>
<g id="j6" class="n"><rect x="424.5" y="208.5" width="18" height="5" rx="1.5"/><text x="433.5" y="211">Interacción</text></g>
<g id="j7" class="n"><rect x="423.5" y="217.5" width="20" height="5" rx="1.5"/><text x="433.5" y="220">Beneficio mutuo</text></g>
<g id="j8" class="n"><rect x="423.5" y="227.5" width="20" height="5" rx="1.5"/><text x="433.5" y="230">Para el grupo</text></g>
<g id="j9" class="k"><rect x="431" y="234.3" width="5" height="4" rx="0.5"/><text x="433.5" y="236.3">y</text></g>
<g id="j10" class="n"><rect x="424.5" y="239.5" width="18" height="5" rx="1.5"/><text x="433.5" y="242">Solidaridad</text></g>
<g id="j11" class="n"><rect x="424.5" y="249.5" width="18" height="5" rx="1.5"/><text x="433.5" y="252">Confianza</text></g>
<g id="j12" class="k"><rect x="431" y="257.3" width="5" height="4" rx="0.5"/><text x="433.5" y="259.3">en</text></g>
<g id="j13" class="n"><rect x="418.5" y="264.2" width="30" height="5" rx="1.5"/><text x="433.5" y="266.7">Las relaciones del grupo</text></g>
<g id="j14" class="n"><rect x="417" y="275" width="18" height="8" rx="1.5"/><text x="426" y="277.5">Relaciones</text><text x="426" y="280.5">estables</text></g>
<g id="j15" class="n"><rect x="439" y="275" width="18" height="8" rx="1.5"/><text x="448" y="277.5">Grupos</text><text x="448" y="280.5">unidos</text></g>
<g id="j16" class="k"><rect x="454.5" y="183" width="5" height="4" rx="0.5"/><text x="457" y="185">el</text></g>
<g id="j17" class="n"><rect x="450" y="189.5" width="14" height="5" rx="1.5"/><text x="457" y="192">Conflicto</text></g>
<g id="j18" class="k"><rect x="454.5" y="197.3" width="5" height="4" rx="0.5"/><text x="457" y="199.3">es</text></g>
<g id="j19" class="n"><rect x="449" y="203" width="16" height="5" rx="1.5"/><text x="457" y="205.5">Oposición</text></g>
<g id="j20" class="k"><rect x="454.5" y="210.3" width="5" height="4" rx="0.5"/><text x="457" y="212.3">de</text></g>
<g id="j21" class="n"><rect x="449" y="216" width="16" height="5" rx="1.5"/><text x="457" y="218.5">Intereses</text></g>
<g id="j22" class="k"><rect x="454.5" y="223.3" width="5" height="4" rx="0.5"/><text x="457" y="225.3">en</text></g>
<g id="j23" class="n"><rect x="449" y="229" width="16" height="5" rx="1.5"/><text x="457" y="231.5">Los grupos</text></g>
<g id="j24" class="k"><rect x="454.5" y="235.3" width="5" height="4" rx="0.5"/><text x="457" y="237.3">por</text></g>
<g id="j25" class="n"><rect x="449" y="240" width="16" height="5" rx="1.5"/><text x="457" y="242.5">Recursos</text></g>
<g id="j26" class="k"><rect x="454.5" y="247" width="5" height="4" rx="0.5"/><text x="457" y="249">y</text></g>
<g id="j27" class="n"><rect x="448" y="254.5" width="18" height="5" rx="1.5"/><text x="457" y="257">Competencia</text></g>
</g>
<g id="col-agresion">
<g id="m0" class="b"><rect x="481" y="139.5" width="34" height="5" rx="1.5"/><text x="498" y="142">Agresión y comportamiento</text></g>
<g id="m1" class="n"><rect x="484" y="148.5" width="28" height="5" rx="1.5"/><text x="498" y="151">Davidson, A. (2007)</text></g>
<g id="m2" class="n"><rect x="475" y="156.5" width="46" height="11" rx="1.5"/><text x="498" y="159">Nombre: Davidson, A. (2007)</text><text x="498" y="162">Psicología Social: 2 (4)</text><text x="498" y="165">Fuente web: www.redalyc.org</text></g>
<g id="m3" class="k"><rect x="484.7" y="175.7" width="12" height="4" rx="0.5"/><text x="490.7" y="177.7">Agresión</text></g>
<g id="m4" class="n"><rect x="477.7" y="181.8" width="26" height="5" rx="1.5"/><text x="490.7" y="184.3">Ideas de cambio de la</text></g>
<g id="m5" class="n"><rect x="481.7" y="191.8" width="18" height="5" rx="1.5"/><text x="490.7" y="194.3">Conducta</text></g>
<g id="m6" class="n"><rect x="481.7" y="200.8" width="18" height="5" rx="1.5"/><text x="490.7" y="203.3">Intencional</text></g>
<g id="m7" class="k"><rect x="484.7" y="208.8" width="12" height="4" rx="0.5"/><text x="490.7" y="210.8">que busca</text></g>
<g id="m8" class="n"><rect x="480.7" y="214.2" width="20" height="5" rx="1.5"/><text x="490.7" y="216.7">Hacer daño</text></g>
<g id="m9" class="k"><rect x="488.2" y="221" width="5" height="4" rx="0.5"/><text x="490.7" y="223">a</text></g>
<g id="m10" class="n"><rect x="479.7" y="226.8" width="22" height="5" rx="1.5"/><text x="490.7" y="229.3">Otras personas</text></g>
<g id="m11" class="n"><rect x="482.7" y="237.5" width="16" height="5" rx="1.5"/><text x="490.7" y="240">Física</text></g>
<g id="m12" class="n"><rect x="482.7" y="245.8" width="16" height="5" rx="1.5"/><text x="490.7" y="248.3">Verbal</text></g>
<g id="m13" class="k"><rect x="488.2" y="252.3" width="5" height="4" rx="0.5"/><text x="490.7" y="254.3">o</text></g>
<g id="m14" class="n"><rect x="483.7" y="257.5" width="14" height="5" rx="1.5"/><text x="490.7" y="260">Social</text></g>
<g id="m15" class="k"><rect x="509" y="175.7" width="12" height="4" rx="0.5"/><text x="515" y="177.7">Altruismo</text></g>
<g id="m16" class="n"><rect x="505" y="181.8" width="20" height="5" rx="1.5"/><text x="515" y="184.3">Ayudar a otros</text></g>
<g id="m17" class="k"><rect x="512.5" y="188.5" width="5" height="4" rx="0.5"/><text x="515" y="190.5">sin</text></g>
<g id="m18" class="n"><rect x="506" y="194.2" width="18" height="5" rx="1.5"/><text x="515" y="196.7">Recompensa</text></g>
<g id="m19" class="n"><rect x="507" y="204.2" width="16" height="5" rx="1.5"/><text x="515" y="206.7">Empatía</text></g>
<g id="m20" class="k"><rect x="512.5" y="211.3" width="5" height="4" rx="0.5"/><text x="515" y="213.3">y</text></g>
<g id="m21" class="n"><rect x="506" y="217.5" width="18" height="5" rx="1.5"/><text x="515" y="220">Compasión</text></g>
<g id="m22" class="k"><rect x="512.5" y="224.3" width="5" height="4" rx="0.5"/><text x="515" y="226.3">por</text></g>
<g id="m23" class="n"><rect x="506" y="231.8" width="18" height="5" rx="1.5"/><text x="515" y="234.3">Los demás</text></g>
<g id="m24" class="k"><rect x="512.5" y="237.8" width="5" height="4" rx="0.5"/><text x="515" y="239.8">en</text></g>
<g id="m25" class="n"><rect x="507" y="242.5" width="16" height="5" rx="1.5"/><text x="515" y="245">Sociedad</text></g>
<g id="m26" class="k"><rect x="512.5" y="251" width="5" height="4" rx="0.5"/><text x="515" y="253">de</text></g>
<g id="m27" class="n"><rect x="500" y="258" width="14" height="8" rx="1.5"/><text x="507" y="260.5">Normas</text><text x="507" y="263.5">sociales</text></g>
<g id="m28" class="n"><rect x="518" y="258" width="14" height="8" rx="1.5"/><text x="525" y="260.5">Bienestar</text><text x="525" y="263.5">común</text></g>
</g>
<g id="sr5">
<g id="s5" class="b"><rect x="474" y="270" width="26" height="8" rx="1.5"/><text x="487" y="272.5">se relaciona con el</text><text x="487" y="275.5">prejuicio</text></g>
<g id="s5a" class="n"><rect x="464" y="279.5" width="48" height="5" rx="1.5"/><text x="488" y="282">las conductas personales influyen en los grupos</text></g>
<g id="s5k1" class="k"><rect x="484" y="286.8" width="8" height="4" rx="0.5"/><text x="488" y="288.8">como</text></g>
<g id="s5a2" class="n"><rect x="470" y="292" width="36" height="5" rx="1.5"/><text x="488" y="294.5">Ideas, actitudes y creencias</text></g>
<g id="s5k2" class="k"><rect x="484" y="298.7" width="8" height="4" rx="0.5"/><text x="488" y="300.7">hacia</text></g>
<g id="s5b" class="n"><rect x="467" y="304.3" width="42" height="8" rx="1.5"/><text x="488" y="306.8">Los grupos sociales y el</text><text x="488" y="309.8">individuo en las instituciones</text></g>
<g id="s5c" class="n"><rect x="476" y="315.5" width="24" height="5" rx="1.5"/><text x="488" y="318">Ideas de cambio</text></g>
</g>
<g id="info">
<rect x="634" y="124.5" width="107" height="37.5" rx="3" fill="#ebebeb" stroke="#b5b5b5" stroke-width="0.5"/>
<text x="688" y="133" style="font-size:3.1px">Erika Stefania Muñoz Chaparro ID 100114486</text>
<text x="688" y="138.5" style="font-size:3.1px">Michael Fernando Camacho Rodríguez ID 100114981</text>
<text x="688" y="144" style="font-size:3.1px">Laura Nayeli Puerto Ayala ID 100118432</text>
<text x="688" y="149.5" style="font-size:3.1px">Mauro Alejandro Peña Rodríguez ID 100110709</text>
<text x="688" y="155" style="font-size:3.1px">Iván Leonardo Sánchez Orihuela ID 100117087</text>
</g>
<g id="ejemplos">
<g id="ej" class="b"><rect x="597" y="353.5" width="18" height="5" rx="1.5"/><text x="606" y="356">Ejemplos</text></g>
<g id="E1" class="b"><rect x="460.7" y="363.5" width="24" height="5" rx="1.5"/><text x="472.7" y="366">Tengo hambre y sed</text></g>
<g id="E1a" class="n"><rect x="461" y="372.5" width="32" height="5" rx="1.5"/><text x="477" y="375">Cuando un vaso de alcohol</text></g>
<g id="E1b" class="n"><rect x="465" y="380.8" width="24" height="5" rx="1.5"/><text x="477" y="383.3">Se usa de pretexto</text></g>
<g id="E1c" class="n"><rect x="469" y="389.2" width="16" height="5" rx="1.5"/><text x="477" y="391.7">Para beber</text></g>
<g id="E1d" class="n"><rect x="472" y="395.8" width="10" height="5" rx="1.5"/><text x="477" y="398.3">Y comer</text></g>
<g id="E1e" class="n"><rect x="472" y="404.8" width="12" height="5" rx="1.5"/><text x="478" y="407.3">Con otros</text></g>
<g id="E1k" class="k"><rect x="476" y="409.7" width="4" height="4" rx="0.5"/><text x="478" y="411.7">en</text></g>
<g id="E1f" class="n"><rect x="470" y="414.2" width="18" height="5" rx="1.5"/><text x="479" y="416.7">La reunión</text></g>
<g id="E2" class="b"><rect x="503" y="371.8" width="24" height="5" rx="1.5"/><text x="515" y="374.3">Roles en el trabajo</text></g>
<g id="E2a" class="n"><rect x="494" y="380.3" width="48" height="8" rx="1.5"/><text x="518" y="382.8">Cada uno con un papel en el equipo de trabajo</text><text x="518" y="385.8">según su cargo</text></g>
<g id="E2b" class="n"><rect x="503" y="390.8" width="28" height="5" rx="1.5"/><text x="517" y="393.3">El jefe y los empleados</text></g>
<g id="E2c" class="n"><rect x="513" y="400" width="14" height="5" rx="1.5"/><text x="520" y="402.5">Normas</text></g>
<g id="E2k" class="k"><rect x="515.5" y="405.5" width="9" height="4" rx="0.5"/><text x="520" y="407.5">de la</text></g>
<g id="E2d" class="n"><rect x="512" y="410.8" width="16" height="5" rx="1.5"/><text x="520" y="413.3">Empresa</text></g>
<g id="E3" class="b"><rect x="551" y="385" width="34" height="8" rx="1.5"/><text x="568" y="387.5">Ejemplo: "Hablar con el</text><text x="568" y="390.5">consumidor"</text></g>
<g id="E3a" class="n"><rect x="553" y="395" width="30" height="5" rx="1.5"/><text x="568" y="397.5">Hay que convencer al cliente</text></g>
<g id="E3b" class="n"><rect x="550" y="403.5" width="36" height="5" rx="1.5"/><text x="568" y="406">Qué es lo que necesita el consumidor</text></g>
<g id="E3c" class="n"><rect x="550" y="412.5" width="36" height="5" rx="1.5"/><text x="568" y="415">La presentación del producto</text></g>
<g id="E3d" class="n"><rect x="552" y="420.8" width="32" height="5" rx="1.5"/><text x="568" y="423.3">Las cualidades, precio y beneficio</text></g>
<g id="E3e" class="n"><rect x="554" y="429" width="28" height="5" rx="1.5"/><text x="568" y="431.5">La compra del producto</text></g>
<g id="E4" class="b"><rect x="590" y="378.5" width="40" height="5" rx="1.5"/><text x="610" y="381">Prejuicio hacia los indígenas y las minorías</text></g>
<g id="E4a" class="n"><rect x="593.5" y="387.5" width="33" height="5" rx="1.5"/><text x="610" y="390">La llegada de un extranjero</text></g>
<g id="E4b" class="n"><rect x="600" y="395.8" width="20" height="5" rx="1.5"/><text x="610" y="398.3">Las costumbres</text></g>
<g id="E4c" class="n"><rect x="600" y="404.8" width="20" height="5" rx="1.5"/><text x="610" y="407.3">Su apariencia</text></g>
<g id="E4k1" class="k"><rect x="608" y="410.5" width="4" height="4" rx="0.5"/><text x="610" y="412.5">y</text></g>
<g id="E4d" class="n"><rect x="595" y="415.2" width="30" height="5" rx="1.5"/><text x="610" y="417.7">El uso de su vestimenta</text></g>
<g id="E4e" class="n"><rect x="593" y="424.8" width="34" height="5" rx="1.5"/><text x="610" y="427.3">Genera rechazo en el grupo</text></g>
<g id="E4k2" class="k"><rect x="607" y="431.2" width="6" height="4" rx="0.5"/><text x="610" y="433.2">por</text></g>
<g id="E4f" class="n"><rect x="596" y="435.8" width="28" height="5" rx="1.5"/><text x="610" y="438.3">Ideas fijas del grupo</text></g>
<g id="E4k3" class="k"><rect x="607.5" y="441.5" width="5" height="4" rx="0.5"/><text x="610" y="443.5">en</text></g>
<g id="E4g" class="n"><rect x="602" y="446" width="16" height="5" rx="1.5"/><text x="610" y="448.5">La sociedad</text></g>
<g id="E5" class="b"><rect x="634.5" y="376.5" width="41" height="5" rx="1.5"/><text x="655" y="379">Ejemplo: Hábitos y conducta social</text></g>
<g id="E5a" class="n"><rect x="638.5" y="384.8" width="33" height="5" rx="1.5"/><text x="655" y="387.3">En un grupo de trabajo</text></g>
<g id="E5b" class="n"><rect x="638.5" y="393.5" width="33" height="5" rx="1.5"/><text x="655" y="396">Se crean hábitos de consumo</text></g>
<g id="E5k1" class="k"><rect x="653" y="400.5" width="4" height="4" rx="0.5"/><text x="655" y="402.5">y</text></g>
<g id="E5c" class="n"><rect x="644" y="405.8" width="22" height="5" rx="1.5"/><text x="655" y="408.3">Más cercanía</text></g>
<g id="E5k2" class="k"><rect x="652" y="412.2" width="6" height="4" rx="0.5"/><text x="655" y="414.2">con</text></g>
<g id="E5d" class="n"><rect x="635" y="417.5" width="40" height="5" rx="1.5"/><text x="655" y="420">Los compañeros de la empresa</text></g>
<g id="E5k3" class="k"><rect x="652.5" y="424" width="5" height="4" rx="0.5"/><text x="655" y="426">en</text></g>
<g id="E5e" class="n"><rect x="641" y="429.8" width="28" height="5" rx="1.5"/><text x="655" y="432.3">La rutina y confianza</text></g>
<g id="E5k4" class="k"><rect x="652.5" y="436.2" width="5" height="4" rx="0.5"/><text x="655" y="438.2">de</text></g>
<g id="E5f" class="n"><rect x="640" y="441.8" width="30" height="5" rx="1.5"/><text x="655" y="444.3">Formación del grupo</text></g>
<g id="E6" class="b"><rect x="688" y="373.2" width="30" height="5" rx="1.5"/><text x="703" y="375.7">Lugar de trabajo y sociedad</text></g>
<g id="E6a" class="n"><rect x="689.5" y="381.8" width="27" height="5" rx="1.5"/><text x="703" y="384.3">Un ambiente laboral</text></g>
<g id="E6k" class="k"><rect x="700.5" y="388.7" width="5" height="4" rx="0.5"/><text x="703" y="390.7">de</text></g>
<g id="E6b" class="n"><rect x="689" y="394.8" width="28" height="5" rx="1.5"/><text x="703" y="397.3">Respeto por la diversidad</text></g>
<g id="E6c" class="n"><rect x="689.5" y="402.5" width="27" height="5" rx="1.5"/><text x="703" y="405">Equidad en las relaciones</text></g>
<g id="E6d" class="n"><rect x="688.5" y="411.5" width="29" height="5" rx="1.5"/><text x="703" y="414">Mejora el clima del grupo</text></g>
<g id="E7" class="b"><rect x="724" y="367.5" width="28" height="5" rx="1.5"/><text x="738" y="370">Relaciones y comportamiento social</text></g>
<g id="E7a" class="n"><rect x="727" y="377" width="22" height="5" rx="1.5"/><text x="738" y="379.5">Las redes sociales</text></g>
<g id="E7b" class="n"><rect x="725" y="385.5" width="26" height="8" rx="1.5"/><text x="738" y="388">Influyen en la forma</text><text x="738" y="391">de pensar</text></g>
<g id="E7c" class="n"><rect x="725" y="398" width="26" height="8" rx="1.5"/><text x="738" y="400.5">Y en la conducta</text><text x="738" y="403.5">de los jóvenes</text></g>
<g id="E7d" class="n"><rect x="729" y="412" width="18" height="5" rx="1.5"/><text x="738" y="414.5">Moda y estilo</text></g>
<g id="E7e" class="n"><rect x="727" y="422" width="22" height="5" rx="1.5"/><text x="738" y="424.5">Presión del grupo</text></g>
</g>
</svg>
